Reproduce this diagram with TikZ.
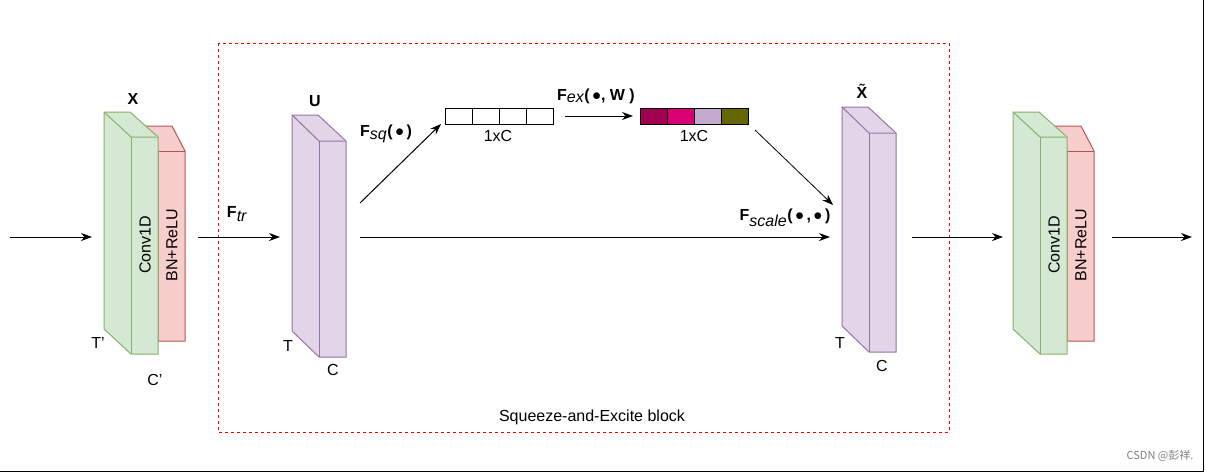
\documentclass[tikz,border=0pt]{standalone}
\usepackage{fontspec}
\usetikzlibrary{arrows.meta}
\setmainfont{Liberation Sans}
\newfontfamily\cjk{Noto Sans CJK SC}
\begin{document}
\begin{tikzpicture}[x=1pt,y=-1pt,
  txt/.style={font=\fontsize{16}{19}\selectfont, inner sep=0pt},
  bt/.style={font=\bfseries\fontsize{16}{19}\selectfont, inner sep=0pt},
  arr/.style={-{Stealth[length=11pt,width=8pt]}, line width=1pt},
  gdraw/.style={draw={rgb,255:red,130;green,179;blue,102}, fill={rgb,255:red,213;green,232;blue,212}, line width=1pt},
  rdraw/.style={draw={rgb,255:red,184;green,84;blue,80}, fill={rgb,255:red,248;green,206;blue,204}, line width=1pt},
  pdraw/.style={draw={rgb,255:red,150;green,115;blue,166}, fill={rgb,255:red,225;green,213;blue,231}, line width=1pt},
  cell/.style={draw=black, line width=0.8pt, minimum width=27pt, minimum height=16pt, inner sep=0pt}]
\useasboundingbox (0,0) rectangle (1206,474);
\fill[white] (0,0) rectangle (1206,474);
\draw[line width=1pt] (0,471) -- (1203,471) -- (1203,0);
% red dashed
\draw[red, dash pattern=on 3pt off 3pt, line width=1pt] (218,43) rectangle (949,432);
\node[txt] (se) at (592,417) {Squeeze-and-Excite block};
% blocks
\newcommand{\blk}[1]{%
  \draw[rdraw] (#1+42,126) -- (#1+68,126) -- (#1+81,151) -- (#1+81,341) -- (#1+54,341) -- (#1+54,151) -- cycle;
  \draw[rdraw] (#1+54,151) -- (#1+81,151);
  \draw[gdraw] (#1,112) -- (#1+26,112) -- (#1+54,137) -- (#1+54,354) -- (#1+27,354) -- (#1,329) -- cycle;
  \draw[gdraw] (#1,112) -- (#1+27,137) -- (#1+54,137);
  \draw[gdraw] (#1+27,137) -- (#1+27,354);}
\blk{104}
\blk{1013}
\node[txt,rotate=90] (c1) at (145,245) {Conv1D};
\node[txt,rotate=90] (b1) at (172,245) {BN+ReLU};
\node[txt,rotate=90] (c2) at (1054,245) {Conv1D};
\node[txt,rotate=90] (b2) at (1081,245) {BN+ReLU};
\node[bt] (X) at (133,99) {X};
\node[txt] (t1) at (98,343) {T'};
\node[txt] (cc1) at (155,380) {C'};
% purple
\newcommand{\pblk}[3]{%
  \draw[pdraw] (#1,#2) -- (#1+26,#2) -- (#1+54,#2+26) -- (#1+54,#3) -- (#1+27,#3) -- (#1,#3-26) -- cycle;
  \draw[pdraw] (#1,#2) -- (#1+27,#2+26) -- (#1+54,#2+26);
  \draw[pdraw] (#1+27,#2+26) -- (#1+27,#3);}
\pblk{292}{115}{357}
\pblk{842}{107}{352}
\node[bt] (U) at (315,101) {U};
\node[txt] (t2) at (288,346) {T};
\node[txt] (cc2) at (333,370) {C};
\node[bt] (Xt) at (862,91) {\~{X}};
\node[txt] (t3) at (840,343) {T};
\node[txt] (cc3) at (882,366) {C};
% cells
\foreach \i in {0,1,2,3} \node[cell] (w\i) at (458.5+27*\i,116) {};
\definecolor{k1}{HTML}{A20050}\definecolor{k2}{HTML}{D80073}\definecolor{k3}{HTML}{C3ABD0}\definecolor{k4}{HTML}{666600}
\foreach \i/\c in {0/k1,1/k2,2/k3,3/k4} \node[cell,fill=\c] (k\i) at (653.5+27*\i,116) {};
\node[txt] (l1) at (498,136) {1xC};
\node[txt] (l2) at (694,136) {1xC};
% arrows
\coordinate (a0) at (10,237); \coordinate (a1) at (92,237);
\coordinate (b0) at (198,237); \coordinate (b1) at (280,237);
\coordinate (m0) at (360,237); \coordinate (m1) at (830,237);
\coordinate (s0) at (360,203); \coordinate (s1) at (441,124);
\coordinate (e0) at (565,116); \coordinate (e1) at (633,116);
\coordinate (f0) at (755,130); \coordinate (f1) at (833,205);
\coordinate (g0) at (912,237); \coordinate (g1) at (1003,237);
\coordinate (h0) at (1112,237); \coordinate (h1) at (1192,237);
\foreach \p in {a,b,m,s,e,g,h} \draw[arr] (\p0) -- (\p1);
\draw[arr, line width=0.8pt] (f0) -- (f1);
\node[txt] (ftr) at (237,214) {\textbf{F}$_{\textit{tr}}$};
\node[txt] (fsq) at (386,134) {\textbf{F}$_{\textit{sq}}$\textbf{(\,$\bullet$\,)}};
\node[txt] (fex) at (596,96) {\textbf{F}$_{\textit{ex}}$\textbf{(\,$\bullet$, W )}};
\node[txt] (fsc) at (785,218) {\textbf{F}$_{\textit{scale}}$\textbf{(\,$\bullet$\,,\,$\bullet$\,)}};
\node[font=\cjk\fontsize{11}{13}\selectfont, text=gray, inner sep=0pt] (wm) at (1160,456) {CSDN @彭祥.};
\end{tikzpicture}
\end{document}
